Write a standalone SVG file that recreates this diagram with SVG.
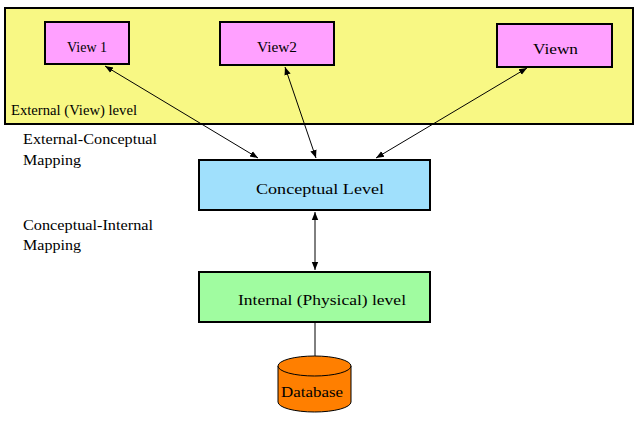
<svg xmlns="http://www.w3.org/2000/svg" width="640" height="422" viewBox="0 0 640 422">
<style>
text{font-family:"Liberation Serif",serif;font-size:14px;fill:#000}
.b{stroke:#000;stroke-width:2}
.c{stroke:#000;stroke-width:1;fill:none}
</style>
<defs>
<marker id="a" viewBox="0 0 10 10" refX="10" refY="5" markerWidth="8" markerHeight="8" orient="auto-start-reverse"><path d="M0,1L10,5L0,9z" fill="#000"/></marker>
</defs>
<rect width="640" height="422" fill="#fff"/>
<g id="external"><rect x="5" y="8" width="628" height="116" fill="#f8f884" class="b"/><text x="11" y="115" textLength="126" lengthAdjust="spacingAndGlyphs">External (View)  level</text></g>
<g id="view1"><rect x="45" y="22" width="84" height="42" fill="#ffa0ff" class="b"/><text x="67" y="52" textLength="40" lengthAdjust="spacingAndGlyphs">View 1</text></g>
<g id="view2"><rect x="220" y="22" width="114" height="43" fill="#ffa0ff" class="b"/><text x="257" y="52" textLength="40" lengthAdjust="spacingAndGlyphs">View2</text></g>
<g id="viewn"><rect x="497" y="24" width="115" height="43" fill="#ffa0ff" class="b"/><text x="533" y="54" textLength="45" lengthAdjust="spacingAndGlyphs">Viewn</text></g>
<g id="conceptual"><rect x="199" y="160" width="231" height="50" fill="#a0e0fc" class="b"/><text x="256" y="194" textLength="128" lengthAdjust="spacingAndGlyphs">Conceptual  Level</text></g>
<g id="internal"><rect x="199" y="272" width="231" height="50" fill="#a0fca0" class="b"/><text x="238" y="305" textLength="168" lengthAdjust="spacingAndGlyphs">Internal (Physical) level</text></g>
<g id="database"><path d="M278,366 L278,402 A36.5,10 0 0 0 351,402 L351,366" fill="#ff7f00" stroke="#000"/><ellipse cx="314.5" cy="366" rx="36.5" ry="10" fill="#ff7f00" stroke="#000"/><text x="281" y="397" textLength="62" lengthAdjust="spacingAndGlyphs">Database</text></g>
<g id="labels"><text x="23" y="144" textLength="134" lengthAdjust="spacingAndGlyphs">External-Conceptual</text><text x="23" y="165" textLength="58" lengthAdjust="spacingAndGlyphs">Mapping</text><text x="23" y="230" textLength="130" lengthAdjust="spacingAndGlyphs">Conceptual-Internal</text><text x="23" y="250" textLength="58" lengthAdjust="spacingAndGlyphs">Mapping</text></g>
<g id="connectors">
<line x1="105" y1="66" x2="258" y2="158" class="c" marker-start="url(#a)" marker-end="url(#a)"/>
<line x1="285" y1="67" x2="316" y2="158" class="c" marker-start="url(#a)" marker-end="url(#a)"/>
<line x1="527" y1="68" x2="376" y2="158" class="c" marker-start="url(#a)" marker-end="url(#a)"/>
<line x1="315" y1="212" x2="315" y2="270" class="c" marker-start="url(#a)" marker-end="url(#a)"/>
<line x1="315" y1="323" x2="315" y2="356" class="c"/>
</g>
</svg>
